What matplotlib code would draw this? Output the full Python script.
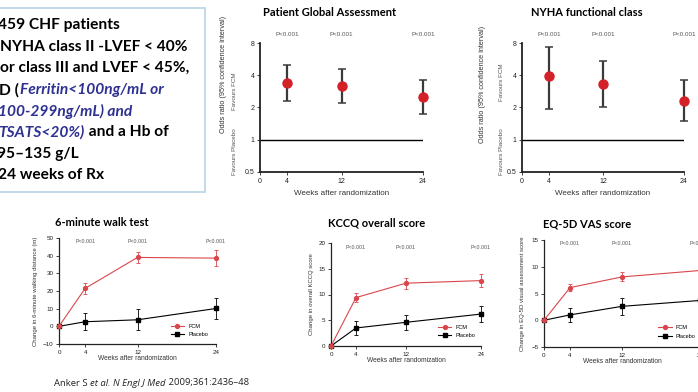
import matplotlib
matplotlib.use('Agg')
import matplotlib.pyplot as plt
from matplotlib.patches import Rectangle
from matplotlib.lines import Line2D

W, H = 698, 392

# ---- data ----
weeks = [0, 4, 12, 24]
or_weeks = [4, 12, 24]

pga_or = [3.4, 3.2, 2.5]
pga_lo = [2.3, 2.2, 1.75]
pga_hi = [5.0, 4.6, 3.6]

nyha_or = [3.9, 3.3, 2.3]
nyha_lo = [1.95, 2.0, 1.5]
nyha_hi = [7.4, 5.4, 3.6]

walk_fcm = [0, 21.5, 39.0, 38.6]
walk_fcm_err = [0, 3.3, 3.3, 4.6]
walk_pla = [0, 2.6, 3.7, 10.1]
walk_pla_err = [0, 4.8, 6.0, 6.0]

kccq_fcm = [0, 9.4, 12.2, 12.7]
kccq_fcm_err = [0, 0.8, 1.1, 1.3]
kccq_pla = [0, 3.5, 4.6, 6.2]
kccq_pla_err = [0, 1.3, 1.5, 1.5]

eq_fcm = [0, 6.1, 8.1, 9.3]
eq_fcm_err = [0, 0.7, 0.85, 0.9]
eq_pla = [0, 1.0, 2.6, 3.7]
eq_pla_err = [0, 1.3, 1.6, 1.6]

p_labels = ['P<0.001', 'P<0.001', 'P<0.001']

box_lines = [
    [('459 CHF patients', 'k')],
    [('NYHA class II -LVEF < 40%', 'k')],
    [('or class III and LVEF < 45%,', 'k')],
    [('D (', 'k'), ('Ferritin<100ng/mL or', 'b')],
    [('100-299ng/mL) and', 'b')],
    [('TSATS<20%)', 'b'), (' and a Hb of', 'k')],
    [('95\u2013135 g/L', 'k')],
    [('24 weeks of Rx', 'k')],
]

RED = '#d42027'
FCM_C = '#d9474c'
BLUE = '#2e3192'
TXT = '#333333'
SMALL = 'Liberation Sans'

fig = plt.figure(figsize=(W / 100, H / 100), dpi=100)
fig.patch.set_facecolor('white')


def px_axes(x0, y0, x1, y1):
    return fig.add_axes([x0 / W, 1 - y1 / H, (x1 - x0) / W, (y1 - y0) / H])


def style_axes(ax, lw=1.0):
    for s in ['top', 'right']:
        ax.spines[s].set_visible(False)
    for s in ['left', 'bottom']:
        ax.spines[s].set_linewidth(lw)
        ax.spines[s].set_color('#222222')
    ax.tick_params(labelsize=4.5, length=2.5, width=0.6, colors='#222222',
                   pad=1.5)
    for lab in ax.get_xticklabels() + ax.get_yticklabels():
        lab.set_family(SMALL)
    ax.patch.set_alpha(0)


def no_clip(container):
    for a in container.get_children():
        a.set_clip_on(False)


# ---- text box ----
fig.patches.append(Rectangle((-10 / W, 1 - 192 / H), 215 / W, 184 / H,
                             transform=fig.transFigure, facecolor='white',
                             edgecolor='#b7d3e6', linewidth=1.2))
renderer = fig.canvas.get_renderer()
line_y = [25, 47, 68, 90, 111, 132, 154, 175]
line_x = [-2, 0, 0, -1, -2, -2, -3, -2]
for parts, ly, lx in zip(box_lines, line_y, line_x):
    x = lx
    for txt, c in parts:
        t = fig.text(x / W, 1 - ly / H, txt, fontsize=11.2, family='Lato',
                     fontweight='bold', color=BLUE if c == 'b' else 'black',
                     style='italic' if c == 'b' else 'normal', va='center')
        bb = t.get_window_extent(renderer)
        x = bb.x1 + 1

# ---- odds ratio charts ----
def or_chart(x0, x1, title, tx, vals, lo, hi, ylab_x, fav_x, fcm_y, pla_y,
             ylab_y):
    ax = px_axes(x0, 43, x1, 172)
    ax.set_yscale('log', base=2)
    ax.set_ylim(0.5, 8)
    ax.set_xlim(0, 24)
    ax.axhline(1, color='black', lw=1.0, xmax=1)
    yerr = [[v - l for v, l in zip(vals, lo)], [h - v for v, h in zip(vals, hi)]]
    eb = ax.errorbar(or_weeks, vals, yerr=yerr, fmt='none', ecolor='#3a3a3a',
                     elinewidth=1.6, capsize=3.2, capthick=1.1)
    no_clip(eb)
    ax.plot(or_weeks, vals, 'o', color=RED, ms=6.5, mec=RED, clip_on=False)
    ax.set_yticks([0.5, 1, 2, 4, 8])
    ax.set_yticklabels(['0.5', '1', '2', '4', '8'])
    ax.minorticks_off()
    ax.set_xticks(weeks)
    style_axes(ax, lw=1.3)
    ax.tick_params(labelsize=5)
    for w, p in zip(or_weeks, p_labels):
        ax.text(w, 1.065, p, transform=ax.get_xaxis_transform(), ha='center',
                va='center', fontsize=4.5, family=SMALL, color='#555555')
    ax.text(0.5, -0.165, 'Weeks after randomization', transform=ax.transAxes,
            ha='center', va='center', fontsize=5.8, family=SMALL, color=TXT)
    ax.text(ylab_x, ylab_y, 'Odds ratio (95% confidence interval)',
            transform=ax.transAxes, rotation=90, ha='center', va='center',
            fontsize=5.2, family=SMALL, color=TXT)
    ax.text(fav_x, fcm_y, 'Favours FCM', transform=ax.transAxes, rotation=90,
            ha='center', va='center', fontsize=4.5, family=SMALL, color='#555555')
    ax.text(fav_x, pla_y, 'Favours Placebo', transform=ax.transAxes, rotation=90,
            ha='center', va='center', fontsize=4.5, family=SMALL, color='#555555')
    fig.text(tx / W, 1 - 13 / H, title, ha='center', va='center', fontsize=8,
             family='Lato', fontweight='bold')
    return ax


or_chart(260, 423, 'Patient Global Assessment', 330, pga_or, pga_lo, pga_hi,
         -0.225, -0.155, 0.63, 0.16, 0.76)
or_chart(522, 684, 'NYHA functional class', 587, nyha_or, nyha_lo, nyha_hi,
         -0.245, -0.125, 0.70, 0.16, 0.68)

# ---- change from baseline charts ----
def change_chart(box, ylim, yticks, title, tpos, fcm, fcm_err, pla, pla_err,
                 ylabel, ylab_dx, p_y, leg_anchor):
    ax = px_axes(*box)
    ax.set_xlim(0, 24)
    ax.set_ylim(*ylim)
    eb = ax.errorbar(weeks, pla, yerr=pla_err, color='black', lw=0.8,
                     marker='s', ms=2.6, capsize=1.6, elinewidth=0.6,
                     capthick=0.6, zorder=2)
    no_clip(eb)
    eb = ax.errorbar(weeks, fcm, yerr=fcm_err, color=FCM_C, lw=0.8,
                     marker='o', ms=2.8, capsize=1.6, elinewidth=0.6,
                     capthick=0.6, zorder=3)
    no_clip(eb)
    ax.set_xticks(weeks)
    ax.set_yticks(yticks)
    style_axes(ax, lw=0.9)
    for w, p in zip(or_weeks, p_labels):
        ax.text(w, p_y, p, ha='center', va='center', fontsize=3.8,
                family=SMALL, color='#555555', clip_on=False)
    ax.text(0.5, -0.14, 'Weeks after randomization', transform=ax.transAxes,
            ha='center', va='center', fontsize=4.8, family=SMALL, color=TXT)
    ax.text(ylab_dx, 0.5, ylabel, transform=ax.transAxes, rotation=90,
            ha='center', va='center', fontsize=4.3, family=SMALL, color=TXT)
    handles = [Line2D([], [], color=FCM_C, marker='o', ms=2.8, lw=0.8),
               Line2D([], [], color='black', marker='s', ms=2.6, lw=0.8)]
    ax.legend(handles, ['FCM', 'Placebo'], loc='center left',
              bbox_to_anchor=leg_anchor, frameon=False,
              handlelength=2.4, labelspacing=0.6,
              prop={'family': SMALL, 'size': 4})
    fig.text(tpos[0] / W, 1 - tpos[1] / H, title, ha='center', va='center',
             fontsize=8, family='Lato', fontweight='bold')
    return ax


change_chart((59, 238, 216, 344), (-10, 50), [-10, 0, 10, 20, 30, 40, 50],
             '6-minute walk test', (102, 223), walk_fcm, walk_fcm_err,
             walk_pla, walk_pla_err,
             'Change in 6-minute walking distance (m)', -0.15, 48,
             (0.68, 0.13))
change_chart((331, 243, 481, 346), (0, 20), [0, 5, 10, 15, 20],
             'KCCQ overall score', (377, 223), kccq_fcm, kccq_fcm_err,
             kccq_pla, kccq_pla_err,
             'Change in overall KCCQ score', -0.13, 19.2, (0.68, 0.14))
change_chart((544, 240, 700, 347), (-5, 15), [-5, 0, 5, 10, 15],
             'EQ-5D VAS score', (587, 224), eq_fcm, eq_fcm_err,
             eq_pla, eq_pla_err,
             'Change in EQ-5D visual assessment score', -0.135, 14.3,
             (0.70, 0.14))

# ---- citation ----
x = 54
for txt, it in [('Anker S ', False), ('et al. N Engl J Med', True),
                (' 2009;361:2436\u201348', False)]:
    t = fig.text(x / W, 1 - 383 / H, txt, fontsize=6.8, family='Open Sans',
                 style='italic' if it else 'normal', color='#222222',
                 va='center')
    x = t.get_window_extent(renderer).x1

fig.savefig('out.png', dpi=100)
